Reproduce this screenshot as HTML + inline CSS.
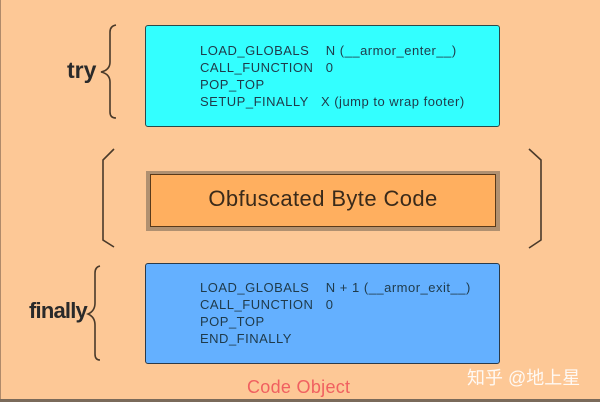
<!DOCTYPE html>
<html><head><meta charset="utf-8"><style>
body{margin:0;width:600px;height:402px;background:#fdc896;position:relative;overflow:hidden;font-family:"Liberation Sans","Noto Sans CJK SC",sans-serif;}
.b{position:absolute;box-sizing:border-box;border-radius:3px;}
.t{position:absolute;color:#1f3a4a;font-size:13px;line-height:17px;white-space:pre;letter-spacing:0.5px;}
</style></head><body>
<div style="position:absolute;left:0;top:0;width:1px;height:402px;background:#b08a6a"></div>
<div style="position:absolute;left:0;top:399px;width:600px;height:3px;background:#7a6a5a"></div>
<div class="b" style="left:145px;top:25px;width:355px;height:102px;background:#33ffff;border:1.5px solid #2a4a4a"></div>
<div class="t" style="left:200px;top:42px">LOAD_GLOBALS    N (__armor_enter__)
CALL_FUNCTION   0
POP_TOP
SETUP_FINALLY   X (jump to wrap footer)</div>
<div class="b" style="left:146px;top:171px;width:354px;height:60px;background:#b09070;border-radius:0"></div>
<div class="b" style="left:150px;top:174px;width:346px;height:53px;background:#ffaf5f;border:1.5px solid #5a3a1a;border-radius:0"></div>
<div style="position:absolute;left:150px;top:186px;width:346px;text-align:center;font-size:22px;letter-spacing:0.4px;color:#3a2a1a">Obfuscated Byte Code</div>
<div class="b" style="left:145px;top:263px;width:355px;height:101px;background:#64b0ff;border:1.5px solid #2a3a4a"></div>
<div class="t" style="left:200px;top:279px">LOAD_GLOBALS    N + 1 (__armor_exit__)
CALL_FUNCTION   0
POP_TOP
END_FINALLY</div>
<div style="position:absolute;left:67px;top:57px;font-size:23px;font-weight:bold;color:#2a2a2a">try</div>
<div style="position:absolute;left:29px;top:298px;font-size:22px;font-weight:bold;letter-spacing:-0.8px;color:#2a2a2a">finally</div>
<svg style="position:absolute;left:0;top:0" width="600" height="402" fill="none" stroke="#4a3a2a" stroke-width="1.6">
<path d="M116 25 Q110 26 110 32 L110 62 Q110 70 101 72 Q110 74 110 82 L110 112 Q110 118 116 118"/>
<path d="M114 149 L103 160 L103 240 L114 247"/>
<path d="M529 149 L541 160 L541 240 L529 248"/>
<path d="M100 266 Q95 267 95 273 L95 303 Q95 311 88 314 Q95 317 95 325 L95 354 Q95 360 100 360"/>
</svg>
<div style="position:absolute;left:247px;top:377px;font-size:18px;letter-spacing:0.3px;color:#f06060">Code Object</div>
<div style="position:absolute;left:467px;top:364px;font-size:18px;color:#fff;opacity:.9">知乎 @地上星</div>
</body></html>
